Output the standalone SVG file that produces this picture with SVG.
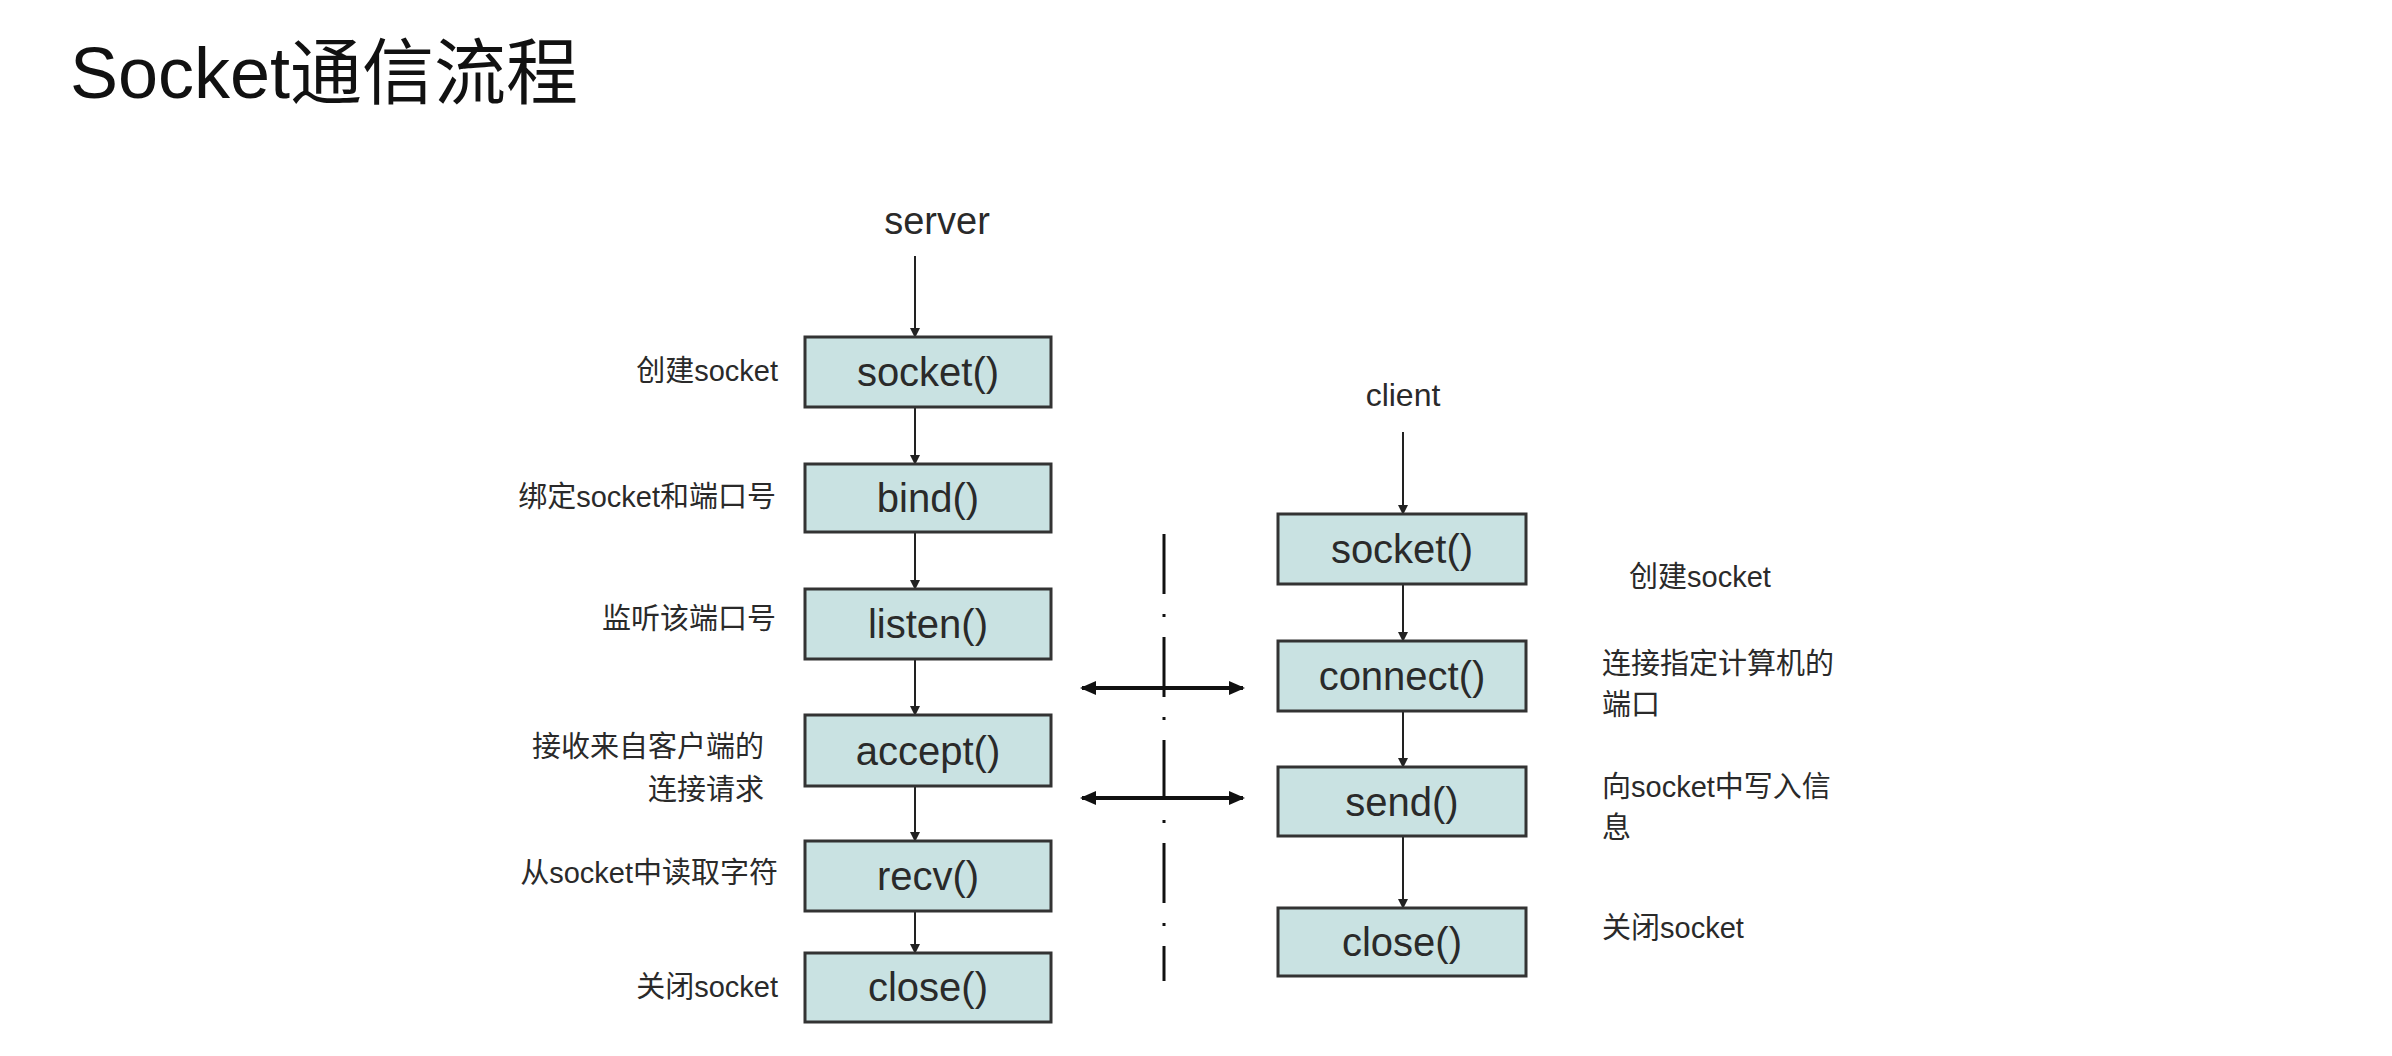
<svg xmlns="http://www.w3.org/2000/svg" width="2392" height="1056" viewBox="0 0 2392 1056">
<style>
text{font-family:"Liberation Sans","Noto Sans CJK SC",sans-serif;fill:#2a2a2a}
.box{fill:#c9e2e2;stroke:#333;stroke-width:3}
.bt{font-size:40px;text-anchor:middle}
.lb{font-size:29px}
.r{text-anchor:end}
.ln{stroke:#222;stroke-width:2;fill:none}
.da{stroke:#111;stroke-width:4;fill:none}
</style>
<defs>
<marker id="ah" markerWidth="10" markerHeight="10" refX="9" refY="5" orient="auto" markerUnits="userSpaceOnUse"><path d="M0,0 L10,5 L0,10 z" fill="#222"/></marker>
<marker id="dh" markerWidth="16" markerHeight="14" refX="14" refY="7" orient="auto-start-reverse" markerUnits="userSpaceOnUse"><path d="M0,0 L16,7 L0,14 z" fill="#111"/></marker>
</defs>
<rect width="2392" height="1056" fill="#fff"/>
<text x="70" y="98" style="font-size:72px;fill:#111">Socket通信流程</text>
<text x="937" y="234" style="font-size:38px;text-anchor:middle">server</text>
<text x="1403" y="406" style="font-size:32px;text-anchor:middle">client</text>

<g id="connectors">
<line class="ln" x1="915" y1="256" x2="915" y2="337" marker-end="url(#ah)"/>
<line class="ln" x1="915" y1="407" x2="915" y2="464" marker-end="url(#ah)"/>
<line class="ln" x1="915" y1="532" x2="915" y2="589" marker-end="url(#ah)"/>
<line class="ln" x1="915" y1="659" x2="915" y2="715" marker-end="url(#ah)"/>
<line class="ln" x1="915" y1="786" x2="915" y2="841" marker-end="url(#ah)"/>
<line class="ln" x1="915" y1="911" x2="915" y2="953" marker-end="url(#ah)"/>
<line class="ln" x1="1403" y1="432" x2="1403" y2="514" marker-end="url(#ah)"/>
<line class="ln" x1="1403" y1="584" x2="1403" y2="641" marker-end="url(#ah)"/>
<line class="ln" x1="1403" y1="711" x2="1403" y2="767" marker-end="url(#ah)"/>
<line class="ln" x1="1403" y1="836" x2="1403" y2="908" marker-end="url(#ah)"/>
<line x1="1164" y1="534" x2="1164" y2="981" stroke="#111" stroke-width="3" stroke-dasharray="60,20,3,20"/>
<line class="da" x1="1082" y1="688" x2="1243" y2="688" marker-start="url(#dh)" marker-end="url(#dh)"/>
<line class="da" x1="1082" y1="798" x2="1243" y2="798" marker-start="url(#dh)" marker-end="url(#dh)"/>
</g>

<g id="s-socket"><rect class="box" x="805" y="337" width="246" height="70"/><text class="bt" x="928" y="386">socket()</text><text class="lb r" x="778" y="381">创建socket</text></g>
<g id="s-bind"><rect class="box" x="805" y="464" width="246" height="68"/><text class="bt" x="928" y="512">bind()</text><text class="lb r" x="776" y="507">绑定socket和端口号</text></g>
<g id="s-listen"><rect class="box" x="805" y="589" width="246" height="70"/><text class="bt" x="928" y="638">listen()</text><text class="lb r" x="776" y="629">监听该端口号</text></g>
<g id="s-accept"><rect class="box" x="805" y="715" width="246" height="71"/><text class="bt" x="928" y="765">accept()</text><text class="lb r" x="764" y="757">接收来自客户端的</text><text class="lb r" x="764" y="800">连接请求</text></g>
<g id="s-recv"><rect class="box" x="805" y="841" width="246" height="70"/><text class="bt" x="928" y="890">recv()</text><text class="lb r" x="778" y="883">从socket中读取字符</text></g>
<g id="s-close"><rect class="box" x="805" y="953" width="246" height="69"/><text class="bt" x="928" y="1001">close()</text><text class="lb r" x="778" y="997">关闭socket</text></g>

<g id="c-socket"><rect class="box" x="1278" y="514" width="248" height="70"/><text class="bt" x="1402" y="563">socket()</text><text class="lb" x="1629" y="587">创建socket</text></g>
<g id="c-connect"><rect class="box" x="1278" y="641" width="248" height="70"/><text class="bt" x="1402" y="690">connect()</text><text class="lb" x="1602" y="674">连接指定计算机的</text><text class="lb" x="1602" y="715">端口</text></g>
<g id="c-send"><rect class="box" x="1278" y="767" width="248" height="69"/><text class="bt" x="1402" y="816">send()</text><text class="lb" x="1602" y="797">向socket中写入信</text><text class="lb" x="1602" y="838">息</text></g>
<g id="c-close"><rect class="box" x="1278" y="908" width="248" height="68"/><text class="bt" x="1402" y="956">close()</text><text class="lb" x="1602" y="938">关闭socket</text></g>
</svg>
